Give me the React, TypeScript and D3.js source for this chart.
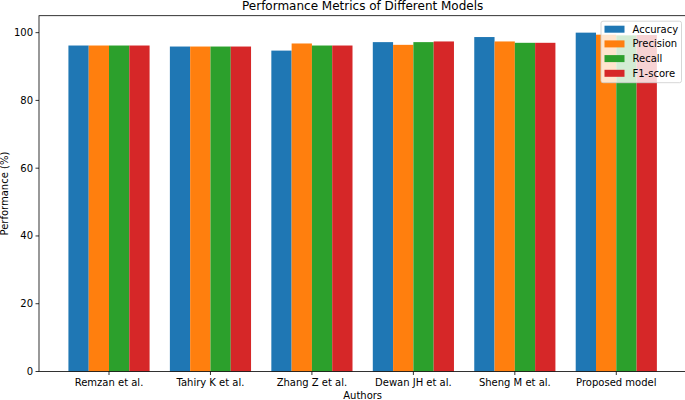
import * as d3 from "d3"

const authors = ["Remzan et al.", "Tahiry K et al.", "Zhang Z et al.", "Dewan JH et al.", "Sheng M et al.", "Proposed model"]
const accuracy = [96.2, 95.9, 94.7, 97.2, 98.7, 100.0]
const precision = [96.2, 95.9, 96.8, 96.4, 97.4, 99.4]
const recall = [96.2, 95.9, 96.2, 97.2, 97.0, 99.2]
const f1Score = [96.2, 95.9, 96.2, 97.4, 97.0, 99.3]
const yTicks = [0, 20, 40, 60, 80, 100]

const seriesNames = ["Accuracy", "Precision", "Recall", "F1-score"]
const seriesValues = [accuracy, precision, recall, f1Score]
const colors = ["#1f77b4", "#ff7f0e", "#2ca02c", "#d62728"]

const barW = 0.2
const font = "DejaVu Sans, sans-serif"

export default function App() {
  const width = 685
  const height = 400
  const margin = { top: 15.7, right: -1.3, bottom: 28.5, left: 39 }
  const plotRight = width - margin.right
  const plotBottom = height - margin.bottom

  const x = d3.scaleLinear().domain([-0.69, authors.length - 1 + 0.69]).range([margin.left, plotRight])
  const y = d3.scaleLinear().domain([0, 105]).range([plotBottom, margin.top])

  const cx = (margin.left + plotRight) / 2
  const cy = (margin.top + plotBottom) / 2

  // legend geometry (upper right)
  const lgX = 601
  const lgTop = margin.top + 5.5
  const lgW = 80.5
  const lgH = 61.5

  return (
    <svg width={width} height={height} style={{ position: "absolute", left: 0, top: 0, background: "#fff" }}>
      {seriesValues.map((vals, j) =>
        vals.map((v, i) => {
          const left = x(i + (j - 1.5) * barW - barW / 2)
          const right = x(i + (j - 1.5) * barW + barW / 2)
          return (
            <rect
              key={`${j}-${i}`}
              x={left}
              y={y(v)}
              width={right - left}
              height={y(0) - y(v)}
              fill={colors[j]}
            />
          )
        })
      )}

      {/* spines */}
      <rect
        x={margin.left}
        y={margin.top}
        width={plotRight - margin.left}
        height={plotBottom - margin.top}
        fill="none"
        stroke="#000"
        strokeWidth={0.8}
      />

      {/* y axis */}
      {yTicks.map((t) => (
        <g key={t}>
          <line x1={margin.left - 3.5} x2={margin.left} y1={y(t)} y2={y(t)} stroke="#000" strokeWidth={0.8} />
          <text x={margin.left - 6} y={y(t)} dy="0.35em" textAnchor="end" fontSize={10} fontFamily={font} fill="#000">
            {t}
          </text>
        </g>
      ))}

      {/* x axis */}
      {authors.map((a, i) => (
        <g key={a}>
          <line x1={x(i)} x2={x(i)} y1={plotBottom} y2={plotBottom + 3.5} stroke="#000" strokeWidth={0.8} />
          <text x={x(i)} y={plotBottom + 14.5} textAnchor="middle" fontSize={10} fontFamily={font} fill="#000">
            {a}
          </text>
        </g>
      ))}

      <text x={cx} y={plotBottom + 27.5} textAnchor="middle" fontSize={10} fontFamily={font} fill="#000">
        Authors
      </text>
      <text
        transform={`translate(8,${cy}) rotate(-90)`}
        textAnchor="middle"
        fontSize={10}
        fontFamily={font}
        fill="#000"
      >
        Performance (%)
      </text>
      <text x={cx} y={margin.top - 6} textAnchor="middle" fontSize={12} fontFamily={font} fill="#000">
        Performance Metrics of Different Models
      </text>

      {/* legend */}
      <rect x={lgX} y={lgTop} width={lgW} height={lgH} rx={2} fill="#fff" fillOpacity={0.8} stroke="#ccc" strokeWidth={0.8} />
      {seriesNames.map((name, j) => {
        const rowY = lgTop + 8 + j * 14.7
        return (
          <g key={name}>
            <rect x={lgX + 3.5} y={rowY - 3.5} width={20} height={7} fill={colors[j]} />
            <text x={lgX + 31.5} y={rowY} dy="0.35em" fontSize={10} fontFamily={font} fill="#000">
              {name}
            </text>
          </g>
        )
      })}
    </svg>
  )
}
